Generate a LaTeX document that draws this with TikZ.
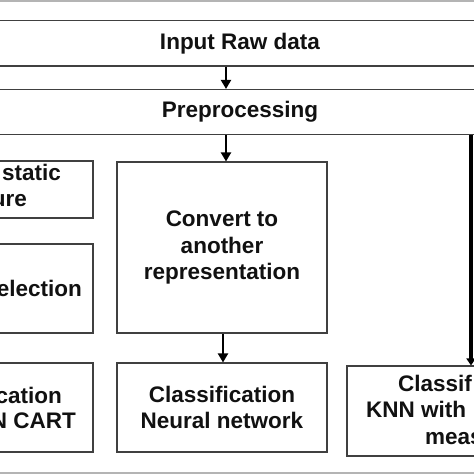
\documentclass[tikz,border=0pt]{standalone}
\usepackage{fontspec}
\setmainfont{Liberation Sans}
\usetikzlibrary{arrows.meta}
\definecolor{boxc}{HTML}{404040}
\definecolor{txt}{HTML}{111111}
\definecolor{band}{HTML}{B4B4B4}
\begin{document}
\begin{tikzpicture}[x=1pt,y=-1pt,
  box/.style={draw=boxc,line width=1.1pt,rectangle,inner sep=0pt,
    font=\bfseries\fontsize{22.5}{26.5}\selectfont,text=txt,align=center},
  lbl/.style={font=\bfseries\fontsize{22.5}{26.5}\selectfont,text=txt,inner sep=0pt},
  arr/.style={line width=2pt,-{Triangle[width=10pt,length=9pt]}},
  bigarr/.style={line width=4pt,-{Triangle[width=9pt,length=7pt]}}]
\useasboundingbox (0,0) rectangle (474,474);
\clip (0,0) rectangle (474,474);
\fill[band] (0,0) rectangle (474,2.2);
\fill[band] (0,471.5) rectangle (474,474);
% wide boxes
\node[box,minimum width=540pt,minimum height=45.5pt] (inp) at (240,43.25) {Input Raw data};
\node[box,minimum width=540pt,minimum height=45pt] (pre) at (240,112) {Preprocessing};
% left column (cut by the left edge)
\node[box,minimum width=210pt,minimum height=57pt] (b1) at (-12,189.5) {};
\node[lbl,anchor=base east] (b1a) at (61,180.5) {static};
\node[lbl,anchor=base east] (b1b) at (27,206.5) {ure};
\node[box,minimum width=210pt,minimum height=89pt] (b2) at (-12,288.5) {};
\node[lbl,anchor=base east] (b2a) at (82,296) {election};
\node[box,minimum width=210pt,minimum height=89pt] (b3) at (-12,407.5) {};
\node[lbl,anchor=base east] (b3a) at (62,403) {cation};
\node[lbl,anchor=base east] (b3b) at (76,428) {N CART};
% middle column
\node[box,minimum width=210pt,minimum height=171pt] (conv) at (222,247.5) {Convert to\\another\\representation};
\node[box,minimum width=210pt,minimum height=89pt] (nn) at (222,407.5) {Classification\\Neural network};
% right box (cut by the right edge)
\node[box,minimum width=226pt,minimum height=90pt] (rb) at (460,411) {};
\node[lbl,anchor=base west] (rba) at (398,391) {Classif};
\node[lbl,anchor=base west] (rbb) at (366,417.5) {KNN with};
\node[lbl,anchor=base west] (rbc) at (425,444) {meas};
% connectors
\coordinate (ax) at (226,0);
\coordinate (bx) at (223,0);
\coordinate (cx) at (471,0);
\draw[arr] (inp.south -| ax) -- (pre.north -| ax);
\draw[arr] (pre.south -| ax) -- (conv.north -| ax);
\draw[arr] (conv.south -| bx) -- (nn.north -| bx);
\draw[bigarr] (pre.south -| cx) -- (rb.north -| cx);
\end{tikzpicture}
\end{document}
